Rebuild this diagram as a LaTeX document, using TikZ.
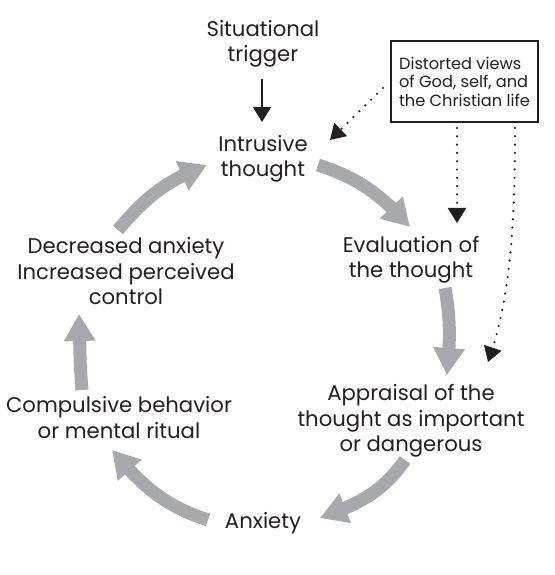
\documentclass[tikz,border=0pt]{standalone}
\usepackage{fontspec}
\setmainfont{Poppins}
\usepackage{xcolor}
\usetikzlibrary{arrows.meta, positioning, bending}
\definecolor{cyclegray}{HTML}{A7A9AC}
\definecolor{inkblack}{HTML}{231F20}

\begin{document}
\begin{tikzpicture}[x=1pt, y=1pt,
  every node/.style={font=\fontsize{21.2}{25.5}\selectfont, align=center, inner sep=0pt, text=inkblack},
  beliefbox/.style={draw=inkblack, line width=1.9pt, font=\fontsize{16.2}{18.5}\selectfont, align=left, minimum width=147pt, minimum height=81pt},
  loopstep/.style={draw=cyclegray, line width=13pt, -{Triangle[width=30pt, length=27pt, flex]}},
  cause/.style={draw=inkblack, line width=1.8pt, -{Triangle[width=18pt, length=15pt]}},
  influence/.style={draw=inkblack, line width=2.4pt, dash pattern=on 0pt off 8.3pt, line cap=round, -{Triangle[width=18pt, length=15pt]}}]
\useasboundingbox (0,0) rectangle (554,575);

\node (trigger) at (263,531) {Situational\\trigger};
\node (intrusive) at (263,416) {Intrusive\\thought};
\node (evaluation) at (411,315) {Evaluation of\\the thought};
\node (appraisal) at (411,154) {Appraisal of the\\thought as important\\or dangerous};
\node (anxiety) at (263,52) {Anxiety};
\node (compulsive) at (119,157.5) {Compulsive behavior\\or mental ritual};
\node (relief) at (126,303.5) {Decreased anxiety\\Increased perceived\\control};
\node (views) [beliefbox] at (464.5,493.5) {Distorted views\\of God, self, and\\the Christian life};

\draw[cause] ([shift={(-1,-35)}]trigger.center) -- ([shift={(-1,37)}]intrusive.center);

\draw[loopstep] ([shift={(55,-6)}]intrusive.center) to[out=-18, in=132] ([shift={(-1,33)}]evaluation.center);
\draw[loopstep] ([shift={(34,-28)}]evaluation.center) to[out=-80, in=85] ([shift={(36,46)}]appraisal.center);
\draw[loopstep] ([shift={(-6,-39)}]appraisal.center) to[out=-125, in=20] ([shift={(57,5)}]anxiety.center);
\draw[loopstep] ([shift={(-55,3)}]anxiety.center) to[out=162, in=-50] ([shift={(-7,-32.5)}]compulsive.center);
\draw[loopstep] ([shift={(-37,27.5)}]compulsive.center) to[out=95, in=-88] ([shift={(-47,-42.5)}]relief.center);
\draw[loopstep] ([shift={(-8,41.5)}]relief.center) to[out=50, in=201] ([shift={(-56,-6)}]intrusive.center);

\draw[influence] ([shift={(-81.5,-6.5)}]views.center) -- ([shift={(67,19)}]intrusive.center);
\draw[influence] ([shift={(-7.5,-46.5)}]views.center) -- ([shift={(46,37)}]evaluation.center);
\draw[influence] ([shift={(50.5,-46.5)}]views.center) to[out=-90, in=70, looseness=0.8] ([shift={(77,59)}]appraisal.center);
\end{tikzpicture}
\end{document}
